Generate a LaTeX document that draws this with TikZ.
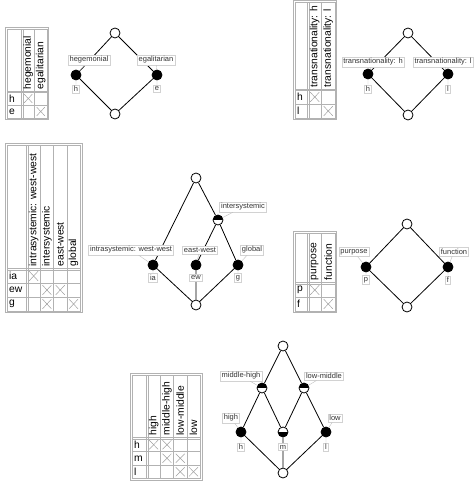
\documentclass[tikz,border=0pt]{standalone}
\usepackage{fontspec}
\setmainfont{Liberation Sans}
\tikzset{
  tabline/.style={draw=gray!60, line width=0.6pt},
  crossline/.style={draw=gray!75, line width=0.5pt},
  headtext/.style={font=\fontsize{10.3}{12}\selectfont, inner sep=0pt},
  rowtext/.style={font=\fontsize{10.3}{12}\selectfont, inner sep=0pt},
  edge/.style={draw=black, line width=0.8pt},
  emp/.style={circle, draw=black, fill=white, line width=0.8pt, minimum size=10pt, inner sep=0pt},
  obj/.style={emp, fill=black},
  halftop/.style={emp, path picture={\fill[black] (path picture bounding box.west) rectangle (path picture bounding box.north east);}},
  halfbot/.style={emp, path picture={\fill[black] (path picture bounding box.west) rectangle (path picture bounding box.south east);}},
  lab/.style={draw=gray!35, fill=white, line width=0.5pt, font=\fontsize{7.5}{9}\selectfont, inner sep=1.5pt, text=black!80},
  leader/.style={draw=gray!50, line width=0.4pt}
}
\newcommand{\tabgrid}[2]{%
  \pgfmathsetmacro\tW{\tfw+#1*\tcw}%
  \pgfmathsetmacro\tH{\thh+#2*\trh}%
  \draw[tabline] (-1.6,-1.6) rectangle (\tW+1.6,\tH+1.6);
  \draw[tabline] (0,0) rectangle (\tW,\tH);
  \draw[tabline] (\tfw-0.8,0) -- (\tfw-0.8,\tH);
  \draw[tabline] (\tfw+0.8,0) -- (\tfw+0.8,\tH);
  \draw[tabline] (0,\thh-0.8) -- (\tW,\thh-0.8);
  \draw[tabline] (0,\thh+0.8) -- (\tW,\thh+0.8);
  \foreach \k in {2,...,#1} {\draw[tabline] ({\tfw+(\k-1)*\tcw},0) -- ({\tfw+(\k-1)*\tcw},\tH);}
  \foreach \k in {2,...,#2} {\draw[tabline] (0,{\thh+(\k-1)*\trh}) -- (\tW,{\thh+(\k-1)*\trh});}
}
\newcommand{\tabx}[2]{%
  \draw[crossline] ({\tfw+(#1-1)*\tcw+2.2},{\thh+(#2-1)*\trh+2.2}) -- ({\tfw+#1*\tcw-2.2},{\thh+#2*\trh-2.2});
  \draw[crossline] ({\tfw+(#1-1)*\tcw+2.2},{\thh+#2*\trh-2.2}) -- ({\tfw+#1*\tcw-2.2},{\thh+(#2-1)*\trh+2.2});
}
\newcommand{\tabhead}[3]{\node[headtext, rotate=90, anchor=west] (#3) at ({\tfw+(#1-0.5)*\tcw},{\thh-2.5}) {#2};}
\newcommand{\tabrow}[3]{\node[rowtext, anchor=west] (#3) at (2,{\thh+(#1-0.5)*\trh}) {#2};}
\begin{document}
\begin{tikzpicture}[x=1pt,y=-1pt]
\useasboundingbox (0,0) rectangle (474,481);
% ---------------- Panel 1 table
\begin{scope}[shift={(7,29)}]
\def\tfw{15}\def\tcw{12.5}\def\thh{63}\def\trh{13}
\tabgrid{2}{2}
\tabhead{1}{hegemonial}{hA1}\tabhead{2}{egalitarian}{hA2}
\tabrow{1}{h}{rA1}\tabrow{2}{e}{rA2}
\tabx{1}{1}\tabx{2}{2}
\end{scope}
% Panel 1 lattice
\node[emp] (t1) at (115,33) {};
\node[obj] (a1) at (76,75) {};
\node[obj] (b1) at (157,75) {};
\node[emp] (u1) at (115,114) {};
\draw[edge] (t1)--(a1) (t1)--(b1) (a1)--(u1) (b1)--(u1);
\node[lab] (la1) at (89,60) {hegemonial};
\node[lab] (lb1) at (156,60) {egalitarian};
\node[lab] (oa1) at (76,89) {h};
\node[lab] (ob1) at (157,89) {e};
\draw[leader] (a1)--(la1) (b1)--(lb1) (a1)--(oa1) (b1)--(ob1);
% ---------------- Panel 2 table
\begin{scope}[shift={(295,2)}]
\def\tfw{13}\def\tcw{13.5}\def\thh{88}\def\trh{14}
\tabgrid{2}{2}
\tabhead{1}{transnationality: h}{hB1}\tabhead{2}{transnationality: l}{hB2}
\tabrow{1}{h}{rB1}\tabrow{2}{l}{rB2}
\tabx{1}{1}\tabx{2}{2}
\end{scope}
% Panel 2 lattice
\node[emp] (t2) at (408,33) {};
\node[obj] (a2) at (368,74) {};
\node[obj] (b2) at (448,74) {};
\node[emp] (u2) at (408,115) {};
\draw[edge] (t2)--(a2) (t2)--(b2) (a2)--(u2) (b2)--(u2);
\node[lab] (la2) at (373,62) {transnationality: h};
\node[lab] (lb2) at (443,62) {transnationality: l};
\node[lab] (oa2) at (368,89) {h};
\node[lab] (ob2) at (448,89) {l};
\draw[leader] (a2)--(la2) (b2)--(lb2) (a2)--(oa2) (b2)--(ob2);
% ---------------- Panel 3 table
\begin{scope}[shift={(7,145)}]
\def\tfw{20}\def\tcw{13.3}\def\thh{124}\def\trh{14}
\tabgrid{4}{3}
\tabhead{1}{intrasystemic: west-west}{hC1}\tabhead{2}{intersystemic}{hC2}
\tabhead{3}{east-west}{hC3}\tabhead{4}{global}{hC4}
\tabrow{1}{ia}{rC1}\tabrow{2}{ew}{rC2}\tabrow{3}{g}{rC3}
\tabx{1}{1}\tabx{2}{2}\tabx{3}{2}\tabx{2}{3}\tabx{4}{3}
\end{scope}
% Panel 3 lattice
\node[emp] (t3) at (196,178) {};
\node[halftop] (is3) at (218,220) {};
\node[obj] (ia3) at (153,265) {};
\node[obj] (ew3) at (196,265) {};
\node[obj] (g3) at (238,265) {};
\node[emp] (u3) at (196,305) {};
\draw[edge] (t3)--(ia3) (t3)--(is3) (is3)--(ew3) (is3)--(g3) (ia3)--(u3) (ew3)--(u3) (g3)--(u3);
\node[lab] (lis3) at (243,207) {intersystemic};
\node[lab] (lia3) at (131,250) {intrasystemic: west-west};
\node[lab] (lew3) at (200,250) {east-west};
\node[lab] (lg3) at (252,250) {global};
\node[lab] (oia3) at (153,278) {ia};
\node[lab] (oew3) at (196,278) {ew};
\node[lab] (og3) at (238,278) {g};
\draw[leader] (is3)--(lis3) (ia3)--(lia3) (ew3)--(lew3) (g3)--(lg3) (ia3)--(oia3) (ew3)--(oew3) (g3)--(og3);
% ---------------- Panel 4 table
\begin{scope}[shift={(295,233)}]
\def\tfw{13}\def\tcw{13.5}\def\thh{50}\def\trh{14}
\tabgrid{2}{2}
\tabhead{1}{purpose}{hD1}\tabhead{2}{function}{hD2}
\tabrow{1}{p}{rD1}\tabrow{2}{f}{rD2}
\tabx{1}{1}\tabx{2}{2}
\end{scope}
% Panel 4 lattice
\node[emp] (t4) at (407,224) {};
\node[obj] (a4) at (366,267) {};
\node[obj] (b4) at (448,267) {};
\node[emp] (u4) at (407,307) {};
\draw[edge] (t4)--(a4) (t4)--(b4) (a4)--(u4) (b4)--(u4);
\node[lab] (la4) at (354,252) {purpose};
\node[lab] (lb4) at (454,252) {function};
\node[lab] (oa4) at (366,280) {p};
\node[lab] (ob4) at (448,280) {f};
\draw[leader] (a4)--(la4) (b4)--(lb4) (a4)--(oa4) (b4)--(ob4);
% ---------------- Panel 5 table
\begin{scope}[shift={(132,375)}]
\def\tfw{15}\def\tcw{13.3}\def\thh{63}\def\trh{13.5}
\tabgrid{4}{3}
\tabhead{1}{high}{hE1}\tabhead{2}{middle-high}{hE2}
\tabhead{3}{low-middle}{hE3}\tabhead{4}{low}{hE4}
\tabrow{1}{h}{rE1}\tabrow{2}{m}{rE2}\tabrow{3}{l}{rE3}
\tabx{1}{1}\tabx{2}{1}\tabx{2}{2}\tabx{3}{2}\tabx{3}{3}\tabx{4}{3}
\end{scope}
% Panel 5 lattice
\node[emp] (t5) at (283,346) {};
\node[halftop] (mh5) at (262,388) {};
\node[halftop] (lm5) at (304,388) {};
\node[obj] (h5) at (241,432) {};
\node[halfbot] (m5) at (283,432) {};
\node[obj] (l5) at (326,432) {};
\node[emp] (u5) at (283,473) {};
\draw[edge] (t5)--(mh5) (t5)--(lm5) (mh5)--(h5) (mh5)--(m5) (lm5)--(m5) (lm5)--(l5) (h5)--(u5) (m5)--(u5) (l5)--(u5);
\node[lab] (lmh5) at (241,376) {middle-high};
\node[lab] (llm5) at (324,376) {low-middle};
\node[lab] (lh5) at (231,418) {high};
\node[lab] (ll5) at (335,418) {low};
\node[lab] (oh5) at (241,447) {h};
\node[lab] (om5) at (283,447) {m};
\node[lab] (ol5) at (326,447) {l};
\draw[leader] (mh5)--(lmh5) (lm5)--(llm5) (h5)--(lh5) (l5)--(ll5) (h5)--(oh5) (m5)--(om5) (l5)--(ol5);
\end{tikzpicture}
\end{document}
